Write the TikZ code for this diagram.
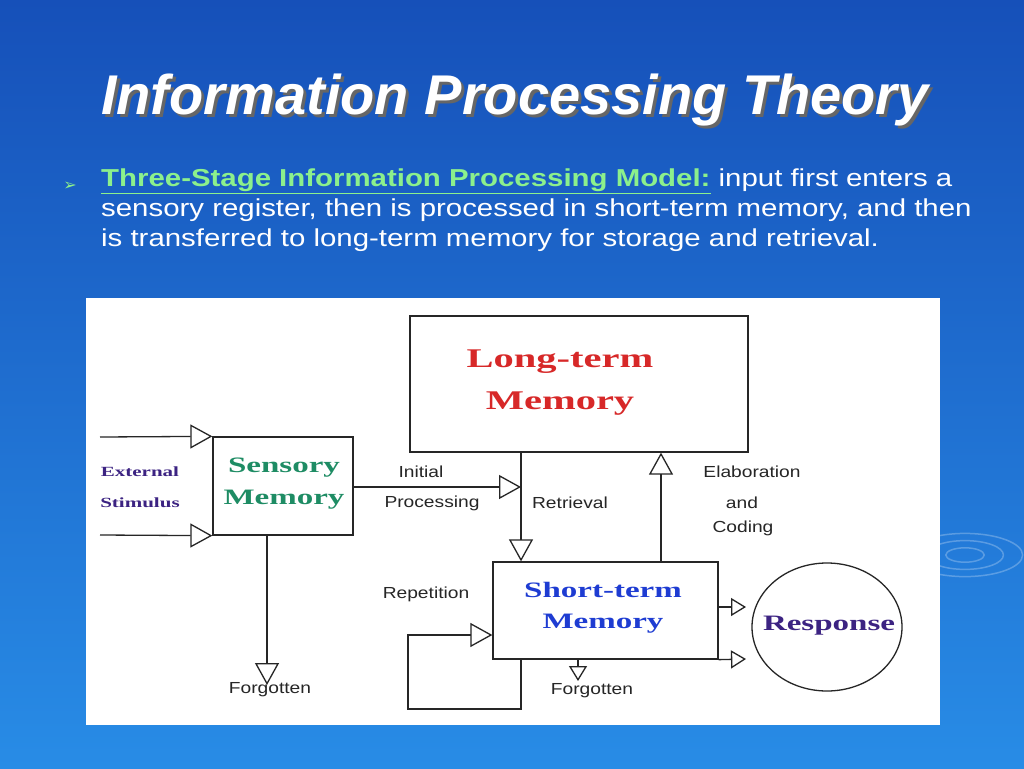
\documentclass[tikz,border=0pt]{standalone}
\usepackage{fontspec}
\setmainfont{Liberation Sans}
\newfontfamily\slab[FakeStretch=1.5,BoldFont={Liberation Serif Bold},BoldFeatures={FakeStretch=1.5}]{Liberation Serif}
\newfontfamily\labfont[FakeStretch=1.2]{Liberation Sans}
\newfontfamily\dejavu{DejaVu Sans}
\usetikzlibrary{arrows.meta,shapes.geometric}
\definecolor{bgtop}{RGB}{22,80,185}
\definecolor{bgbot}{RGB}{40,140,230}
\definecolor{lgreen}{RGB}{140,240,140}
\definecolor{ltmred}{RGB}{215,40,40}
\definecolor{sensgreen}{RGB}{30,140,100}
\definecolor{stmblue}{RGB}{30,60,210}
\definecolor{purp}{RGB}{60,35,130}
\tikzset{
  box/.style={draw=black!85,line width=1.3pt,inner sep=0pt},
  conn/.style={draw=black!85,line width=1.3pt,-{Triangle[open,length=22pt,width=24pt,line width=1.3pt]}},
  sconn/.style={draw=black!85,line width=1.3pt,-{Triangle[open,length=15pt,width=18pt,line width=1.3pt]}},
  lab/.style={font=\fontsize{16}{16}\selectfont\labfont,inner sep=0pt,text=black!85},
}
\begin{document}
\begin{tikzpicture}[x=1pt,y=-1pt]
\useasboundingbox (0,0) rectangle (1024,768);
\shade[top color=bgtop,bottom color=bgbot] (0,0) rectangle (1024,768);
\foreach \r in {12,24,36}{\draw[white,opacity=0.25,line width=1.5pt] (965,555) ellipse ({\r*1.6} and \r*0.6);}
% title
\node[text=black!60,font=\fontsize{56}{56}\selectfont\bfseries\itshape] at (518,103) {Information Processing Theory};
\node (title)[text=white,font=\fontsize{56}{56}\selectfont\bfseries\itshape] at (515,100) {Information Processing Theory};
\node (bul)[text=lgreen,font=\fontsize{16}{16}\selectfont\dejavu] at (70,186) {➢};
\node (body)[anchor=north west,text=white,align=left,inner sep=0pt,font=\fontsize{24.5}{30}\selectfont\labfont] at (101,169)
 {\textcolor{lgreen}{\bfseries\underline{Three-Stage Information Processing Model:}} input first enters a\\
 sensory register, then is processed in short-term memory, and then\\
 is transferred to long-term memory for storage and retrieval.};
% panel
\fill[white] (86,298) rectangle (940,725);
% boxes
\node (ltm)[box,minimum width=338pt,minimum height=136pt] at (579,384) {};
\node (ltmt)[text=ltmred,align=center,font=\fontsize{27}{42}\selectfont\slab\bfseries] at (560,383) {Long-term\\Memory};
\node (sm)[box,minimum width=140pt,minimum height=98pt] at (283,486) {};
\node (smt)[text=sensgreen,align=center,font=\fontsize{22}{32}\selectfont\slab\bfseries] at (284,484) {Sensory\\Memory};
\node (stm)[box,minimum width=225pt,minimum height=97pt] at (605.5,610.5) {};
\node (stmt)[text=stmblue,align=center,font=\fontsize{22}{31}\selectfont\slab\bfseries] at (603,608) {Short-term\\Memory};
\node (resp)[draw=black!85,line width=1.3pt,ellipse,minimum width=150pt,minimum height=128pt] at (827,627) {};
\node (respt)[text=purp,font=\fontsize{22}{22}\selectfont\slab\bfseries] at (829,626) {Response};
\node (ext)[text=purp,align=center,font=\fontsize{14}{31}\selectfont\slab\bfseries] at (140,487) {External\\Stimulus};
% inputs
\coordinate (in1) at (100,437);
\coordinate (in2) at (100,535);
\draw[conn] (in1) -- (sm.north west);
\draw[conn] (in2) -- (sm.south west);
% initial processing
\coordinate (ret) at (521,487);
\draw[conn] (sm.east |- 0,487) -- (ret);
\node[lab] at (421,472) {Initial};
\node[lab] at (432,503) {Processing};
% retrieval
\draw[conn] (ltm.south -| ret) -- (stm.north -| ret);
\node[lab] at (570,503) {Retrieval};
% elaboration
\draw[conn] (stm.north -| 661,0) -- (ltm.south -| 661,0);
\node[lab] at (752,472) {Elaboration};
\node[lab] at (742,503) {and};
\node[lab] at (743,528) {Coding};
% responses
\coordinate (r1) at (746,607);
\coordinate (r2) at (746,659);
\draw[sconn] (stm.east |- r1) -- (r1);
\draw[sconn] (stm.south east) -- (r2);
% repetition loop
\draw[conn] (stm.south -| ret) |- (408,709) |- (stm.west |- 0,635);
\node[lab] at (426,594) {Repetition};
% forgotten
\coordinate (f1) at (267,685);
\draw[conn] (sm.south -| f1) -- (f1);
\node[lab] at (270,690) {Forgotten};
\coordinate (f2) at (578,681);
\draw[sconn] (stm.south -| f2) -- (f2);
\node[lab] at (592,691) {Forgotten};
\end{tikzpicture}
\end{document}
